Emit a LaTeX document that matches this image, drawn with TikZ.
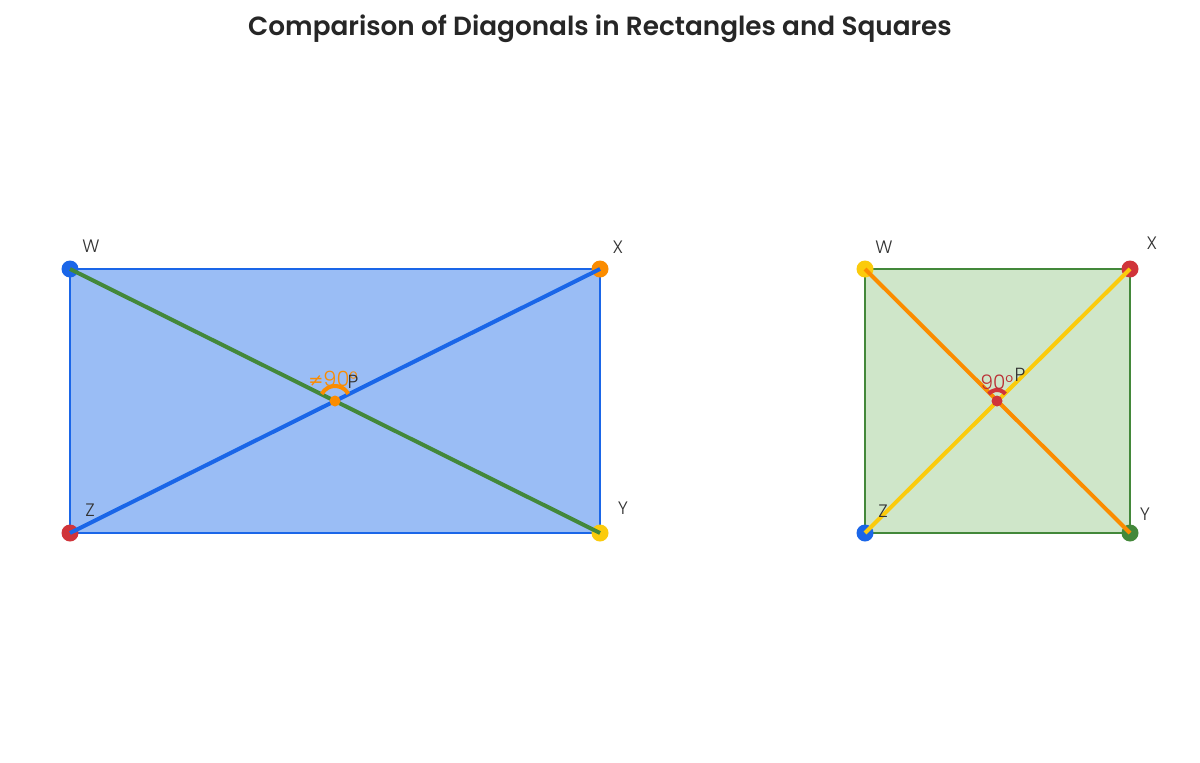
\documentclass[tikz,border=0pt]{standalone}
\usepackage{fontspec}
\setmainfont{Poppins}
\newfontfamily\titlefont{Poppins}[UprightFont=* SemiBold]
\newfontfamily\labfont{Poppins}[UprightFont=* Light]
\newfontfamily\symfont{DejaVu Sans}
\definecolor{gblue}{HTML}{1A66E8}
\definecolor{bluefill}{HTML}{9ABDF5}
\definecolor{ggreen}{HTML}{43883A}
\definecolor{greenfill}{HTML}{CFE6C9}
\definecolor{gorange}{HTML}{FB8C00}
\definecolor{gred}{HTML}{D0343A}
\definecolor{gyellow}{HTML}{FBCB0C}
\definecolor{labelgray}{HTML}{333333}
\begin{document}
\begin{tikzpicture}[x=1pt,y=-1pt,
  lab/.style={font=\labfont\fontsize{18}{18}\selectfont, text=labelgray, inner sep=0pt},
  dot/.style={circle, fill=#1, minimum size=17pt, inner sep=0pt},
  cdot/.style={circle, fill=#1, minimum size=11pt, inner sep=0pt},
  diag/.style={line width=4pt, draw=#1},
  ]
\useasboundingbox[fill=white] (0,0) rectangle (1200,763);
\node[font=\titlefont\fontsize{26.3}{26.3}\selectfont, text=black!85] (title) at (600,29) {Comparison of Diagonals in Rectangles and Squares};

% ---- rectangle
\coordinate (rW) at (70,269);
\coordinate (rX) at (600,269);
\coordinate (rY) at (600,533);
\coordinate (rZ) at (70,533);
\coordinate (rP) at (335,401);
\draw[fill=bluefill, draw=gblue, line width=2pt] (rW) -- (rX) -- (rY) -- (rZ) -- cycle;
\node[dot=gblue] (dW) at (rW) {};
\node[dot=gorange] (dX) at (rX) {};
\node[dot=gyellow] (dY) at (rY) {};
\node[dot=gred] (dZ) at (rZ) {};
\draw[diag=ggreen] (rW) -- (rY);
\draw[diag=gblue] (rZ) -- (rX);
\draw[gorange, line width=4pt] ([shift={(-28:15)}]rP) arc[start angle=-28, end angle=-152, radius=15];
\node[cdot=gorange] (dP) at (rP) {};
\node[lab] (lW) at (91,246) {W};
\node[lab] (lX) at (618,247) {X};
\node[lab] (lY) at (623,508) {Y};
\node[lab] (lZ) at (90,510) {Z};
\node[lab, text=gorange, font=\labfont\fontsize{21}{21}\selectfont] (lang) at (333,379) {{\symfont\fontsize{18}{18}\selectfont ≠}90°};
\node[lab, font=\labfont\fontsize{19}{19}\selectfont] (lP) at (353,382) {P};

% ---- square
\coordinate (sW) at (865,269);
\coordinate (sX) at (1130,269);
\coordinate (sY) at (1130,533);
\coordinate (sZ) at (865,533);
\coordinate (sP) at (997,401);
\draw[fill=greenfill, draw=ggreen, line width=2pt] (sW) -- (sX) -- (sY) -- (sZ) -- cycle;
\node[dot=gyellow] (eW) at (sW) {};
\node[dot=gred] (eX) at (sX) {};
\node[dot=ggreen] (eY) at (sY) {};
\node[dot=gblue] (eZ) at (sZ) {};
\draw[diag=gorange] (sW) -- (sY);
\draw[diag=gyellow] (sZ) -- (sX);
\draw[gred, line width=4pt] ([shift={(-40:11)}]sP) arc[start angle=-40, end angle=-140, radius=11];
\node[cdot=gred] (eP) at (sP) {};
\node[lab] (mW) at (884,247) {W};
\node[lab] (mX) at (1152,243) {X};
\node[lab] (mY) at (1145,514) {Y};
\node[lab] (mZ) at (883,511) {Z};
\node[lab, text=gred!90!black, font=\labfont\fontsize{20}{20}\selectfont] (mang) at (997,382) {90°};
\node[lab, font=\labfont\fontsize{19}{19}\selectfont] (mP) at (1020,375) {P};
\end{tikzpicture}
\end{document}
